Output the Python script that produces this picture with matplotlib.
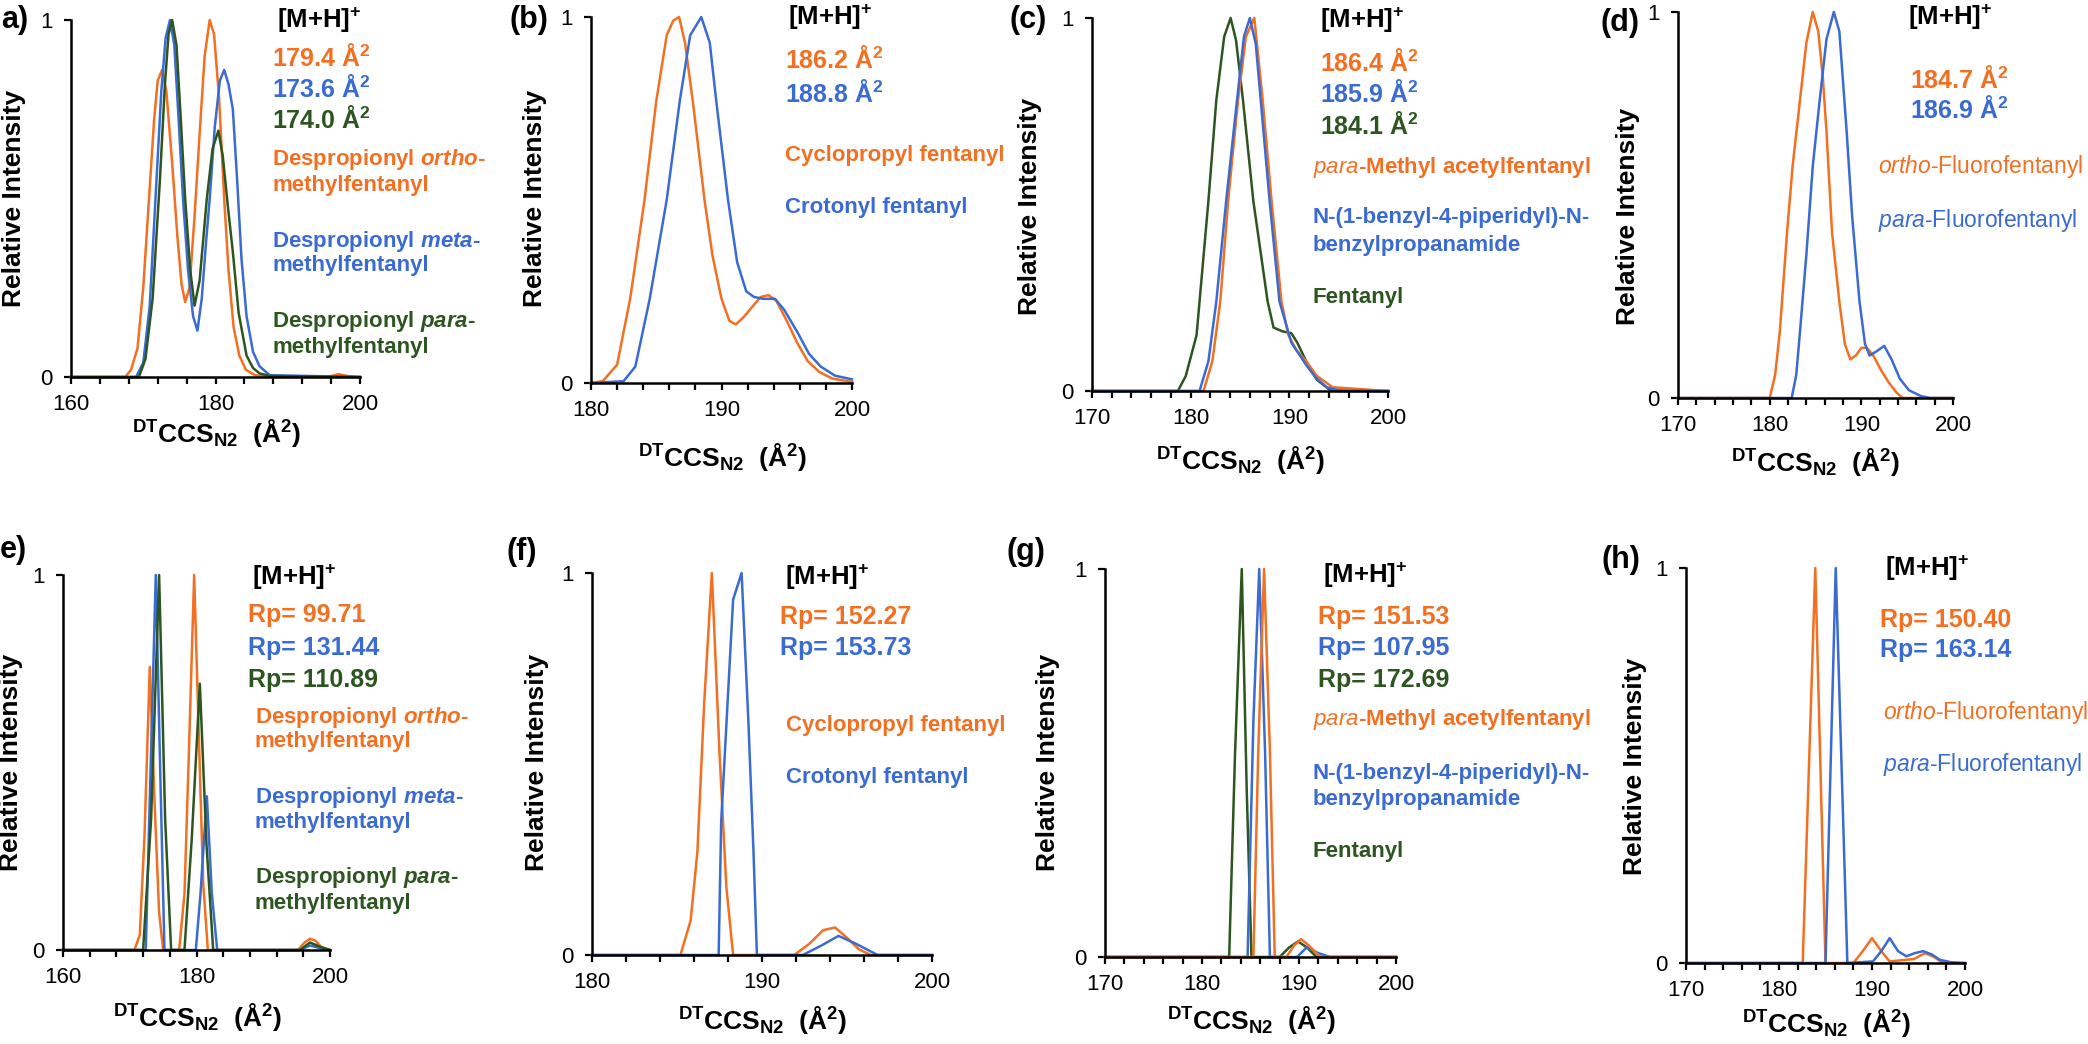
import matplotlib
matplotlib.use('Agg')
import matplotlib.pyplot as plt
from matplotlib.ticker import MultipleLocator

plt.rcParams['font.family'] = ['Liberation Sans', 'DejaVu Sans']
plt.rcParams['mathtext.fontset'] = 'custom'
plt.rcParams['mathtext.rm'] = 'Liberation Sans:bold'
plt.rcParams['mathtext.bf'] = 'Liberation Sans:bold'
plt.rcParams['mathtext.it'] = 'Liberation Sans:italic:bold'
plt.rcParams['mathtext.sf'] = 'Liberation Sans:italic'

ORANGE = '#F36F21'
BLUE = '#3A6BD2'
GREEN = '#2C5520'

# ---- (a) drift tube, despropionyl methylfentanyls ----
a_orange_x = [160, 167.5, 168.3, 169.2, 170.0, 170.8, 171.5, 172.0, 172.6, 173.2, 174.0, 174.7, 175.3, 175.8, 176.4,
              177.1, 177.8, 178.5, 179.2, 179.8, 180.5, 181.2, 181.8, 182.5, 183.3, 184.2, 185.5, 188, 195.5, 197, 198.5, 200]
a_orange_y = [0, 0, 0.02, 0.08, 0.25, 0.50, 0.72, 0.83, 0.86, 0.80, 0.60, 0.40, 0.26, 0.21, 0.25,
              0.45, 0.68, 0.90, 1.0, 0.96, 0.78, 0.50, 0.30, 0.14, 0.06, 0.02, 0.005, 0, 0, 0.008, 0.002, 0]
a_blue_x = [160, 169.0, 170.0, 170.9, 171.8, 172.5, 173.1, 173.7, 174.3, 174.9, 175.5, 176.2, 176.9, 177.5, 178.1,
            178.7, 179.2, 179.9, 180.6, 181.2, 181.8, 182.4, 183.0, 183.6, 184.3, 185.2, 186.1, 187.5, 200]
a_blue_y = [0, 0, 0.04, 0.20, 0.54, 0.80, 0.95, 1.0, 0.93, 0.72, 0.50, 0.30, 0.17, 0.13, 0.22,
            0.38, 0.50, 0.70, 0.83, 0.86, 0.82, 0.75, 0.55, 0.33, 0.17, 0.07, 0.03, 0.005, 0]
a_green_x = [160, 169.4, 170.3, 171.3, 172.3, 173.0, 173.5, 174.0, 174.6, 175.2, 175.8, 176.5, 177.1, 177.8,
             178.8, 179.6, 180.4, 181.0, 181.7, 182.4, 183.2, 184.3, 185.2, 186.1, 187.5, 200]
a_green_y = [0, 0, 0.05, 0.22, 0.55, 0.82, 0.96, 1.0, 0.93, 0.72, 0.50, 0.30, 0.20, 0.27,
             0.50, 0.64, 0.69, 0.62, 0.48, 0.35, 0.18, 0.06, 0.025, 0.01, 0.003, 0]

# ---- (b) cyclopropyl / crotonyl fentanyl ----
b_orange_x = [180, 180.9, 182.0, 183.0, 184.1, 185.0, 185.8, 186.3, 186.75, 187.2, 187.8, 188.3, 188.7, 189.3, 190.0,
              190.6, 191.1, 191.7, 192.4, 193.0, 193.6, 194.2, 195.0, 195.8, 196.6, 197.5, 198.5, 200]
b_orange_y = [0, 0.005, 0.05, 0.23, 0.50, 0.77, 0.95, 0.99, 1.0, 0.93, 0.77, 0.62, 0.50, 0.35, 0.23,
              0.17, 0.16, 0.18, 0.21, 0.235, 0.24, 0.225, 0.17, 0.11, 0.06, 0.03, 0.012, 0.003]
b_blue_x = [180, 182.5, 183.4, 184.5, 185.8, 186.8, 187.6, 188.45, 189.1, 189.6, 190.5, 191.2, 191.9, 192.5,
            193.2, 194.1, 194.8, 195.8, 196.7, 197.6, 198.7, 200]
b_blue_y = [0, 0.005, 0.045, 0.23, 0.50, 0.77, 0.95, 1.0, 0.93, 0.77, 0.50, 0.33, 0.25, 0.235,
            0.23, 0.23, 0.20, 0.14, 0.08, 0.045, 0.02, 0.01]

# ---- (c) para-methyl acetylfentanyl / N-benzyl... / fentanyl ----
c_orange_x = [170, 181.3, 182.2, 183.0, 183.8, 184.8, 185.6, 186.45, 187.3, 188.2, 189.2, 189.9, 190.7, 191.7,
              192.8, 194.4, 200]
c_orange_y = [0, 0, 0.08, 0.24, 0.51, 0.78, 0.95, 1.0, 0.78, 0.51, 0.24, 0.15, 0.11, 0.08, 0.04, 0.01, 0]
c_blue_x = [170, 180.9, 181.8, 182.6, 183.6, 184.7, 185.4, 186.0, 186.6, 187.1, 188.0, 189.0, 190.2, 191.7,
            192.7, 193.8, 195, 200]
c_blue_y = [0, 0, 0.08, 0.24, 0.51, 0.78, 0.95, 1.0, 0.93, 0.78, 0.51, 0.24, 0.13, 0.07, 0.035, 0.01, 0.002, 0]
c_green_x = [170, 178.7, 179.5, 180.6, 181.8, 182.6, 183.4, 184.05, 184.6, 185.3, 186.35, 187.8, 188.4, 189.3,
             190.2, 190.8, 191.7, 192.8, 194.0, 195, 200]
c_green_y = [0, 0, 0.04, 0.15, 0.51, 0.78, 0.95, 1.0, 0.94, 0.78, 0.51, 0.24, 0.17, 0.16,
             0.155, 0.13, 0.08, 0.03, 0.005, 0, 0]

# ---- (d) ortho / para-fluorofentanyl ----
d_orange_x = [170, 180.0, 180.6, 181.1, 181.9, 182.5, 183.3, 184.0, 184.7, 185.3, 185.8, 186.2, 186.8, 187.6,
              188.2, 188.8, 189.4, 190.0, 190.6, 191.3, 192.2, 193.0, 193.8, 194.5, 200]
d_orange_y = [0, 0, 0.06, 0.17, 0.43, 0.60, 0.77, 0.92, 1.0, 0.95, 0.83, 0.69, 0.43, 0.25,
              0.14, 0.10, 0.11, 0.13, 0.13, 0.11, 0.07, 0.04, 0.015, 0, 0]
d_blue_x = [170, 182.4, 182.9, 183.3, 184.0, 184.7, 185.45, 186.2, 187.0, 187.6, 188.0, 188.4, 189.0, 189.8,
            190.4, 190.9, 191.6, 192.5, 193.3, 194.2, 195.2, 196.5, 197.5, 200]
d_blue_y = [0, 0, 0.06, 0.17, 0.37, 0.60, 0.77, 0.93, 1.0, 0.95, 0.82, 0.69, 0.47, 0.25,
            0.14, 0.11, 0.12, 0.135, 0.10, 0.05, 0.02, 0.005, 0, 0]

# ---- (e) high resolution, despropionyl methylfentanyls ----
e_orange_x = [160, 170.7, 171.5, 172.2, 173.0, 173.7, 174.4, 175.0, 177.4, 178.2, 178.9, 179.65, 180.3, 181.0,
              181.7, 195.2, 196.2, 197.0, 197.8, 198.7, 200]
e_orange_y = [0, 0, 0.04, 0.30, 0.755, 0.40, 0.10, 0, 0, 0.15, 0.55, 1.0, 0.60, 0.18,
              0, 0, 0.02, 0.03, 0.025, 0.008, 0]
e_blue_x = [160, 172.4, 173.0, 173.9, 174.6, 175.2, 179.9, 180.6, 181.55, 182.3, 183.1, 195.5, 197.0, 198.5, 200]
e_blue_y = [0, 0, 0.40, 1.0, 0.45, 0, 0, 0.15, 0.41, 0.15, 0, 0, 0.012, 0.005, 0]
e_green_x = [160, 172.0, 173.2, 174.4, 175.3, 176.2, 178.2, 179.3, 180.5, 181.5, 182.5, 195.5, 197.0, 198.3, 200]
e_green_y = [0, 0, 0.35, 1.0, 0.35, 0, 0, 0.30, 0.71, 0.28, 0, 0, 0.02, 0.01, 0]

# ---- (f) ----
f_orange_x = [180, 185.2, 185.8, 186.2, 186.6, 187.05, 187.5, 187.9, 188.3, 191.9, 192.8, 193.6, 194.3, 195.0,
              195.7, 196.4, 200]
f_orange_y = [0, 0, 0.09, 0.27, 0.66, 1.0, 0.53, 0.18, 0, 0, 0.03, 0.065, 0.072, 0.045, 0.015, 0, 0]
f_blue_x = [180, 187.45, 187.6, 188.3, 188.8, 189.2, 189.5, 189.7, 192.4, 193.5, 194.5, 195.5, 196.8, 200]
f_blue_y = [0, 0, 0.35, 0.93, 1.0, 0.61, 0.27, 0, 0, 0.025, 0.05, 0.03, 0, 0]

# ---- (g) ----
g_orange_x = [170, 185.3, 185.8, 186.4, 187.0, 187.5, 188.7, 189.5, 190.2, 191.0, 192.2, 200]
g_orange_y = [0, 0, 0.53, 1.0, 0.53, 0, 0, 0.03, 0.046, 0.03, 0, 0]
g_blue_x = [170, 184.7, 185.3, 185.9, 186.5, 187.0, 189.8, 190.8, 192.0, 193.2, 200]
g_blue_y = [0, 0, 0.61, 1.0, 0.53, 0, 0, 0.025, 0.01, 0, 0]
g_green_x = [170, 182.8, 183.4, 184.1, 184.6, 185.1, 188.0, 189.0, 189.9, 190.8, 191.8, 200]
g_green_y = [0, 0, 0.52, 1.0, 0.44, 0, 0, 0.025, 0.04, 0.025, 0, 0]

# ---- (h) ----
h_orange_x = [170, 182.55, 183.9, 185.0, 188.0, 189.0, 190.0, 191.0, 191.9, 194.5, 195.7, 196.7, 197.6, 200]
h_orange_y = [0, 0, 1.0, 0, 0, 0.03, 0.063, 0.03, 0.004, 0.01, 0.025, 0.015, 0, 0]
h_blue_x = [170, 185.0, 186.1, 187.35, 190.1, 191.0, 191.9, 192.8, 193.7, 194.6, 195.5, 196.4, 197.3, 198.5, 200]
h_blue_y = [0, 0, 1.0, 0, 0.004, 0.03, 0.063, 0.03, 0.017, 0.025, 0.03, 0.022, 0.008, 0.002, 0]

# ---- text ----
a_ccs = ['179.4', '173.6', '174.0']
b_ccs = ['186.2', '188.8']
c_ccs = ['186.4', '185.9', '184.1']
d_ccs = ['184.7', '186.9']
e_rp = ['99.71', '131.44', '110.89']
f_rp = ['152.27', '153.73']
g_rp = ['151.53', '107.95', '172.69']
h_rp = ['150.40', '163.14']
desprop_names = [('Despropionyl $\\mathit{ortho}$-', 'methylfentanyl'),
                 ('Despropionyl $\\mathit{meta}$-', 'methylfentanyl'),
                 ('Despropionyl $\\mathit{para}$-', 'methylfentanyl')]
cyclo_names = ['Cyclopropyl fentanyl', 'Crotonyl fentanyl']
methyl_names = ['$\\mathsf{para}$-Methyl acetylfentanyl', 'N-(1-benzyl-4-piperidyl)-N-',
                'benzylpropanamide', 'Fentanyl']
fluoro_names = ['$\\mathsf{ortho}$-Fluorofentanyl', '$\\mathsf{para}$-Fluorofentanyl']

W, H = 2088, 1044
fig = plt.figure(figsize=(W / 100, H / 100), dpi=100)

NAME_SIZE = 16


def panel(x0, x1, ytop, yzero, xmin, major, minor):
    ax = fig.add_axes([x0 / W, 1 - yzero / H, (x1 - x0) / W, (yzero - ytop) / H])
    ax.set_xlim(xmin, 200)
    ax.set_ylim(0, 1)
    ax.spines[['top', 'right']].set_visible(False)
    for s in ('left', 'bottom'):
        ax.spines[s].set_linewidth(1.8)
    ax.xaxis.set_major_locator(MultipleLocator(major))
    ax.xaxis.set_minor_locator(MultipleLocator(minor))
    ax.set_yticks([0, 1])
    ax.set_yticklabels(['0', '1'])
    ax.tick_params(which='both', direction='out', length=5, width=1.6, labelsize=16, pad=7)
    ax.tick_params(axis='y', pad=8)
    return ax


def curves(ax, series):
    for xs, ys, c in series:
        ax.plot(xs, ys, color=c, lw=1.8, clip_on=False, solid_joinstyle='round')


def txt(x, y, s, color='black', size=NAME_SIZE, weight='bold'):
    fig.text(x / W, 1 - y / H, s, color=color, fontsize=size, fontweight=weight, ha='left', va='center')


def decor(tag, tag_x, tag_y, ylab_x, ylab_y, xlab_x, xlab_y):
    fig.text(tag_x / W, 1 - tag_y / H, tag, fontsize=22, fontweight='bold', ha='right', va='center')
    fig.text(ylab_x / W, 1 - ylab_y / H, 'Relative Intensity', rotation=90, fontsize=19,
             fontweight='bold', ha='center', va='center')
    fig.text(xlab_x / W, 1 - xlab_y / H, '$^{\\mathbf{DT}}$CCS$_{\\mathbf{N2}}$  (Å$^{\\mathbf{2}}$)',
             fontsize=19, fontweight='bold', ha='center', va='center')


cols3 = [ORANGE, BLUE, GREEN]
MH = '[M+H]$^{+}$'

# (a)  -- the "(" of this tag is cropped off in the source figure
ax = panel(71, 360, 20, 377, 160, 20, 4)
curves(ax, [(a_orange_x, a_orange_y, ORANGE), (a_blue_x, a_blue_y, BLUE), (a_green_x, a_green_y, GREEN)])
decor('a)', 28, 20, 14, 198, 216, 433)
txt(277, 20, MH, size=18.5)
for i, v in enumerate(a_ccs):
    txt(272, 57 + 31.5 * i, v + ' Å$^{2}$', cols3[i], 18)
for i, (l1, l2) in enumerate(desprop_names):
    txt(272, 160 + 81 * i, l1, cols3[i])
    txt(272, 185 + 81 * i, l2, cols3[i])

# (b)
ax = panel(591, 852, 17, 383, 180, 10, 2)
curves(ax, [(b_orange_x, b_orange_y, ORANGE), (b_blue_x, b_blue_y, BLUE)])
decor('(b)', 548, 20, 535, 198, 722, 457)
txt(788, 17, MH, size=18.5)
for i, v in enumerate(b_ccs):
    txt(785, 60 + 33 * i, v + ' Å$^{2}$', cols3[i], 18)
for i, n in enumerate(cyclo_names):
    txt(785, 155 + 52 * i, n, cols3[i])

# (c)
ax = panel(1092, 1388, 18, 391, 170, 10, 2)
curves(ax, [(c_green_x, c_green_y, GREEN), (c_orange_x, c_orange_y, ORANGE), (c_blue_x, c_blue_y, BLUE)])
decor('(c)', 1047, 20, 1030, 206, 1240, 460)
txt(1320, 20, MH, size=18.5)
for i, v in enumerate(c_ccs):
    txt(1320, 62 + 31.5 * i, v + ' Å$^{2}$', cols3[i], 18)
txt(1313, 167, methyl_names[0], ORANGE)
txt(1313, 218, methyl_names[1], BLUE)
txt(1313, 245, methyl_names[2], BLUE)
txt(1313, 297, methyl_names[3], GREEN)

# (d)
ax = panel(1678, 1953, 12, 398, 170, 10, 2)
curves(ax, [(d_orange_x, d_orange_y, ORANGE), (d_blue_x, d_blue_y, BLUE)])
decor('(d)', 1640, 23, 1628, 216, 1815, 462)
txt(1908, 17, MH, size=18.5)
for i, v in enumerate(d_ccs):
    txt(1910, 79 + 31 * i, v + ' Å$^{2}$', cols3[i], 18)
for i, n in enumerate(fluoro_names):
    txt(1878, 166 + 54 * i, n, cols3[i], 16.5, 'normal')

# (e)
ax = panel(63, 330, 575, 950, 160, 20, 4)
curves(ax, [(e_orange_x, e_orange_y, ORANGE), (e_blue_x, e_blue_y, BLUE), (e_green_x, e_green_y, GREEN)])
decor('e)', 27, 550, 11, 762, 197, 1017)
txt(252, 577, MH, size=18.5)
for i, v in enumerate(e_rp):
    txt(248, 615 + 32.5 * i, 'Rp= ' + v, cols3[i], 18)
for i, (l1, l2) in enumerate(desprop_names):
    txt(255, 717 + 80.5 * i, l1, cols3[i])
    txt(255, 742 + 80.5 * i, l2, cols3[i])

# (f)
ax = panel(592, 932, 573, 955, 180, 10, 2)
curves(ax, [(f_orange_x, f_orange_y, ORANGE), (f_blue_x, f_blue_y, BLUE)])
decor('(f)', 537, 552, 537, 762, 762, 1020)
txt(785, 577, MH, size=18.5)
for i, v in enumerate(f_rp):
    txt(780, 617 + 31.5 * i, 'Rp= ' + v, cols3[i], 18)
for i, n in enumerate(cyclo_names):
    txt(786, 725 + 52 * i, n, cols3[i])

# (g)
ax = panel(1105, 1396, 569, 957, 170, 10, 2)
curves(ax, [(g_green_x, g_green_y, GREEN), (g_blue_x, g_blue_y, BLUE), (g_orange_x, g_orange_y, ORANGE)])
decor('(g)', 1045, 552, 1048, 762, 1251, 1020)
txt(1323, 575, MH, size=18.5)
for i, v in enumerate(g_rp):
    txt(1318, 617 + 31.5 * i, 'Rp= ' + v, cols3[i], 18)
txt(1313, 720, methyl_names[0], ORANGE)
txt(1313, 773, methyl_names[1], BLUE)
txt(1313, 800, methyl_names[2], BLUE)
txt(1313, 852, methyl_names[3], GREEN)

# (h)
ax = panel(1686, 1965, 568, 963, 170, 10, 2)
curves(ax, [(h_orange_x, h_orange_y, ORANGE), (h_blue_x, h_blue_y, BLUE)])
decor('(h)', 1640, 560, 1635, 766, 1826, 1023)
txt(1885, 568, MH, size=18.5)
for i, v in enumerate(h_rp):
    txt(1880, 620 + 30 * i, 'Rp= ' + v, cols3[i], 18)
for i, n in enumerate(fluoro_names):
    txt(1883, 712 + 53 * i, n, cols3[i], 16.5, 'normal')

fig.savefig('out.png', dpi=100, facecolor='white')
